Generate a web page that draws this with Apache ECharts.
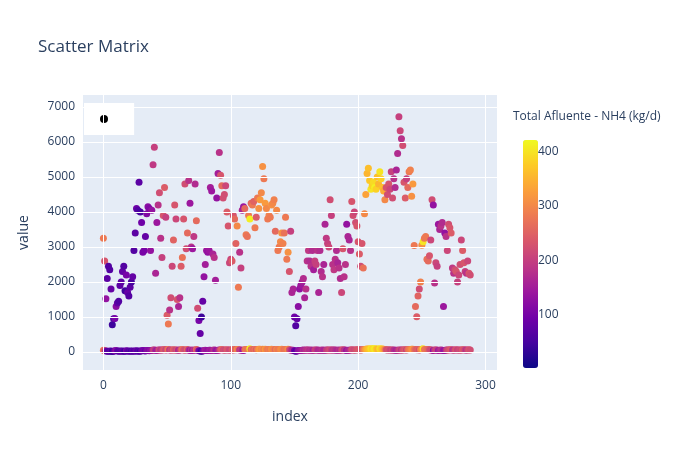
<!DOCTYPE html>
<html><head><meta charset="utf-8">
<script src="https://cdn.jsdelivr.net/npm/echarts@6/dist/echarts.min.js"></script>
<style>html,body{margin:0;padding:0;background:#fff}#c{width:700px;height:450px}</style>
</head><body><div id="c"></div>
<script>
const flowValues = [
3250,2600,1520,2100,2450,2350,1800,780,950,960,1300,1400,1450,1900,2000,2300,2450,1750,2200,1700,
1600,1850,2000,2150,2900,3400,4100,4050,4850,4000,3700,2850,2900,3300,3950,4150,4100,2900,4050,5350,
5850,2250,3700,4200,4550,3250,2700,3900,4700,3850,1050,800,1200,1550,2450,3200,4200,3800,1500,1300,
1550,2450,2700,3800,4800,2950,3400,4900,4250,3000,2950,3300,4800,3750,1250,900,530,1000,1450,2150,
2500,2900,2850,2900,4700,4600,2800,2700,2050,4400,5100,5700,5050,4750,4400,4500,4750,4000,3600,2550,
2650,2600,3900,3800,3100,3600,1850,2850,2400,4050,4150,4100,3350,3300,3900,3800,4250,4200,4300,3550,
3850,4400,4100,4350,4550,5300,4950,4250,4100,3800,3900,3850,4200,4250,4350,3450,4050,2900,3000,3150,
3400,3100,3400,3850,2650,2850,2300,3450,1700,1800,1000,750,950,1300,1800,1900,2000,2100,1550,1800,
2600,2900,2600,2450,2900,2350,2600,2500,2900,1700,2900,2300,2150,2500,3650,3250,3100,3000,4350,3900,
2500,2350,2650,2900,2550,2400,2100,1700,2950,2150,2500,3650,3300,3200,2900,4300,3900,4000,3700,3600,
3150,2800,2450,3100,2400,3950,4500,5100,5250,4900,4650,4750,4850,4700,4650,5000,4800,5150,4950,4700,
4600,4350,4700,4500,4800,4650,5150,4400,4950,4700,5200,5670,6720,6320,6090,5900,4850,4400,4950,4700,
5150,5200,4450,4800,3040,1300,1010,1600,1800,2000,3050,3150,3250,3300,2650,2600,2750,3200,4350,4200,
1970,2550,2450,3650,3500,3600,3700,1300,3400,3300,2900,3650,3550,3400,2400,2250,2350,2300,2000,2200,2500,3200,2900,2550,2300,2250,2600,2250,2200
];
const nh4Values = [
300,250,150,90,80,80,100,60,70,120,140,100,80,90,90,100,80,60,120,100,
80,90,70,100,80,90,110,80,90,70,110,120,120,100,130,140,130,150,150,210,
220,180,160,200,240,200,220,250,260,220,260,300,200,240,230,270,250,230,250,180,
200,260,290,250,240,240,280,200,160,200,160,210,190,280,240,120,100,60,100,150,
170,160,150,160,170,160,180,200,170,150,170,200,250,280,240,240,230,260,250,230,
230,260,250,280,270,320,300,200,220,180,160,280,300,290,300,430,280,300,270,300,
260,300,330,340,320,330,300,340,320,300,310,300,330,320,310,280,320,300,300,320,
330,310,290,300,300,330,250,220,180,180,110,80,100,140,150,160,170,190,180,200,
200,210,190,200,190,170,220,220,200,180,190,190,200,180,180,210,220,230,240,220,
200,210,200,190,180,200,190,230,250,200,200,150,180,180,200,250,240,230,240,250,
250,260,240,250,290,320,350,370,380,390,420,400,410,430,400,380,370,420,400,380,
360,320,250,240,250,230,220,240,200,190,180,190,220,230,200,240,250,260,220,280,
300,310,330,340,300,280,260,270,240,310,330,420,300,300,290,280,250,230,240,150,
200,230,220,160,180,200,190,160,150,200,230,240,250,260,210,200,240,250,220,230,240,230,260,250,220,200,230,250,240
];
const lowValues = [
50,40,30,20,25,20,30,15,20,35,40,30,25,30,25,30,25,20,35,30,
25,30,20,30,25,30,35,25,30,20,35,40,35,30,40,40,35,45,45,55,
60,50,45,55,60,55,60,65,70,60,65,70,55,60,60,65,60,55,60,50,
55,65,70,60,60,60,70,55,45,55,45,55,50,70,60,35,30,20,30,45,
50,45,45,50,50,45,50,55,50,45,50,55,65,70,60,60,60,65,60,60,
60,65,60,70,65,75,70,55,60,50,45,70,75,70,75,90,70,75,70,75,
65,75,80,80,75,80,75,80,75,75,75,75,80,75,75,70,75,75,75,75,
80,75,70,75,75,80,65,60,50,50,35,25,30,40,45,45,50,55,50,55,
55,55,50,55,50,50,60,60,55,50,50,50,55,50,50,55,60,60,60,60,
55,55,55,50,50,55,50,60,65,55,55,45,50,50,55,65,60,60,60,65,
65,65,60,65,70,75,80,85,85,85,90,85,90,90,85,85,80,90,85,85,
80,75,65,60,65,60,60,60,55,50,50,50,60,60,55,60,65,65,60,70,
75,75,80,80,75,70,65,70,60,75,80,90,75,75,70,70,65,60,60,45,
55,60,60,45,50,55,50,45,45,55,60,60,65,65,55,55,60,65,60,60,60,60,65,65,60,55,60,65,60
];
const xTicks = [0,100,200,300];
const yTicks = [0,1000,2000,3000,4000,5000,6000,7000];
const colorTicks = [100,200,300,400];
const plasma = ['#0d0887','#46039f','#7201a8','#9c179e','#bd3786','#d8576b','#ed7953','#fb9f3a','#fdca26','#f0f921'];

const pts = [];
for (let i = 0; i < flowValues.length; i++) pts.push([i, flowValues[i], nh4Values[i]]);
for (let i = 0; i < lowValues.length; i++) pts.push([i, lowValues[i], nh4Values[i]]);

const txt = {color:'#2a3f5f', fontFamily:'Open Sans, sans-serif', fontSize:12};
const chart = echarts.init(document.getElementById('c'));
chart.setOption({
  animation:false,
  title:{text:'Scatter Matrix', left:33, top:34, textStyle:{color:'#2a3f5f', fontFamily:'Open Sans', fontSize:17, fontWeight:'normal'}},
  legend:{data:[{name:' ', icon:'circle', itemStyle:{color:'#000'}}], left:84, top:103, backgroundColor:'#fff', padding:[10,18,10,16], itemWidth:8, itemHeight:8, itemGap:0, textStyle:txt},
  grid:[{left:83, right:203, top:95, bottom:80, backgroundColor:'#E5ECF6', show:true, borderWidth:0},
        {left:513, width:15, top:130, bottom:92, show:false}],
  xAxis:[{type:'value', min:-16, max:309, axisLine:{show:false}, axisTick:{show:false}, splitLine:{show:false},
          axisLabel:{...txt, margin:10, customValues:xTicks},
          name:'index', nameLocation:'middle', nameGap:40, nameTextStyle:{...txt, fontSize:14}},
         {gridIndex:1, show:false, min:0, max:1}],
  yAxis:[{type:'value', min:-514, max:7340, axisLine:{show:false}, axisTick:{show:false}, splitLine:{show:false},
          axisLabel:{...txt, margin:8, customValues:yTicks, formatter:v=>String(v)},
          name:'value', nameLocation:'middle', nameGap:52, nameTextStyle:{...txt, fontSize:14}},
         {gridIndex:1, type:'value', min:20, max:440, position:'right', axisLine:{show:false}, axisTick:{show:false},
          splitLine:{show:false}, axisLabel:{...txt, margin:10, customValues:colorTicks}}],
  visualMap:{type:'continuous', min:20, max:440, dimension:2, seriesIndex:1, inRange:{color:plasma},
    orient:'vertical', left:508, top:125, itemWidth:15, itemHeight:228, calculable:false, text:['',''], showLabel:false},
  graphic:[
    {type:'text', left:513, top:111, style:{text:'Total Afluente - NH4 (kg/d)', fill:'#2a3f5f', font:'12px "Open Sans"'}}
  ],
  series:[
    {type:'line', xAxisIndex:0, yAxisIndex:0, data:[], silent:true, z:1,
      markLine:{silent:true, symbol:'none', label:{show:false}, animation:false,
        lineStyle:{color:'#fff', width:1, type:'solid'},
        data:yTicks.map(v=>({yAxis:v})).concat(xTicks.map(v=>({xAxis:v})))}},
    {name:' ', type:'scatter', data:pts, symbolSize:7, xAxisIndex:0, yAxisIndex:0, z:3, itemStyle:{opacity:1}}
  ]
});
</script></body></html>
